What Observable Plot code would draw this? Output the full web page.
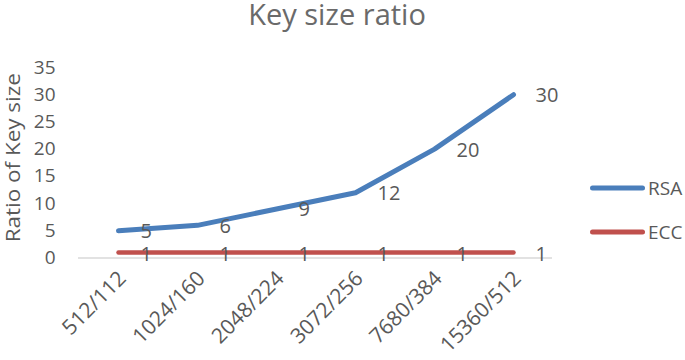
<!DOCTYPE html>
<html>
<head>
<meta charset="utf-8">
<script src="https://cdn.jsdelivr.net/npm/d3@7"></script>
<script src="https://cdn.jsdelivr.net/npm/@observablehq/plot@0.6"></script>
<style>
  html, body { margin: 0; padding: 0; background: #fff; }
  #wrap { position: relative; width: 685px; height: 360px; font-family: "Open Sans", sans-serif; }
  #title { position: absolute; left: 0; top: 1px; width: 674px; text-align: center; font-size: 29px; line-height: 26px; color: #6a6a6a; z-index: 2; }
  .leg { position: absolute; display: flex; align-items: center; height: 20px; font-size: 19px; color: #595959; line-height: 20px; }
  .leg svg { display: block; }
</style>
</head>
<body>
<div id="wrap"></div>
<script>
const categories = ["512/112", "1024/160", "2048/224", "3072/256", "7680/384", "15360/512"];
const rsaValues = [5, 6, 9, 12, 20, 30];
const eccValues = [1, 1, 1, 1, 1, 1];
const yTicks = [0, 5, 10, 15, 20, 25, 30, 35];
const seriesNames = ["RSA", "ECC"];
const seriesColors = ["#4a7ebb", "#c0504d"];
const titleText = "Key size ratio";
const yTitle = "Ratio of Key size";

const rsaRows = categories.map((c, i) => ({cat: c, value: rsaValues[i]}));
const eccRows = categories.map((c, i) => ({cat: c, value: eccValues[i]}));

const chart = Plot.plot({
  width: 685,
  height: 360,
  marginLeft: 78,
  marginRight: 133,
  marginTop: 67,
  marginBottom: 102.5,
  style: {fontFamily: "Open Sans, sans-serif", color: "#595959", background: "white", overflow: "visible"},
  x: {type: "point", domain: categories, padding: 0.5, label: null},
  y: {domain: [0, 35], label: null},
  marks: [
    Plot.ruleY([0], {stroke: "#d9d9d9", strokeWidth: 1.5}),
    Plot.axisY({ticks: yTicks, tickSize: 0, tickPadding: 23, fontSize: 19, fill: "#595959", label: null}),
    Plot.axisX({tickRotate: -45, tickSize: 0, tickPadding: 17, dx: 4, fontSize: 21, fill: "#595959", label: null}),
    Plot.line(eccRows, {x: "cat", y: "value", stroke: seriesColors[1], strokeWidth: 4.5, strokeLinecap: "round", strokeLinejoin: "round"}),
    Plot.line(rsaRows, {x: "cat", y: "value", stroke: seriesColors[0], strokeWidth: 5, strokeLinecap: "round", strokeLinejoin: "round"}),
    Plot.text(rsaRows, {x: "cat", y: "value", text: d => String(d.value), textAnchor: "start", dx: 22, dy: 1, fontSize: 20, fill: "#595959"}),
    Plot.text(eccRows, {x: "cat", y: "value", text: d => String(d.value), textAnchor: "start", dx: 22, dy: 2, fontSize: 20, fill: "#595959"}),
    Plot.text([yTitle], {frameAnchor: "left", rotate: -90, textAnchor: "middle", lineAnchor: "middle", dx: -65, dy: -5, fontSize: 20, fill: "#595959"})
  ]
});

chart.querySelectorAll("text").forEach(t => {
  if (t.textContent === yTitle) { t.setAttribute("textLength", 169); t.setAttribute("lengthAdjust", "spacingAndGlyphs"); }
});

const wrap = document.getElementById("wrap");
wrap.appendChild(chart);

const title = document.createElement("div");
title.id = "title";
title.textContent = titleText;
wrap.appendChild(title);

const legendTops = [178, 222];
seriesNames.forEach((name, i) => {
  const item = document.createElement("div");
  item.className = "leg";
  item.style.left = "587px";
  item.style.top = legendTops[i] + "px";
  item.innerHTML = `<svg width="61" height="20"><line x1="5.5" x2="55.5" y1="10" y2="10" stroke="${seriesColors[i]}" stroke-width="5" stroke-linecap="round"/></svg><span>${name}</span>`;
  wrap.appendChild(item);
});
</script>
</body>
</html>
